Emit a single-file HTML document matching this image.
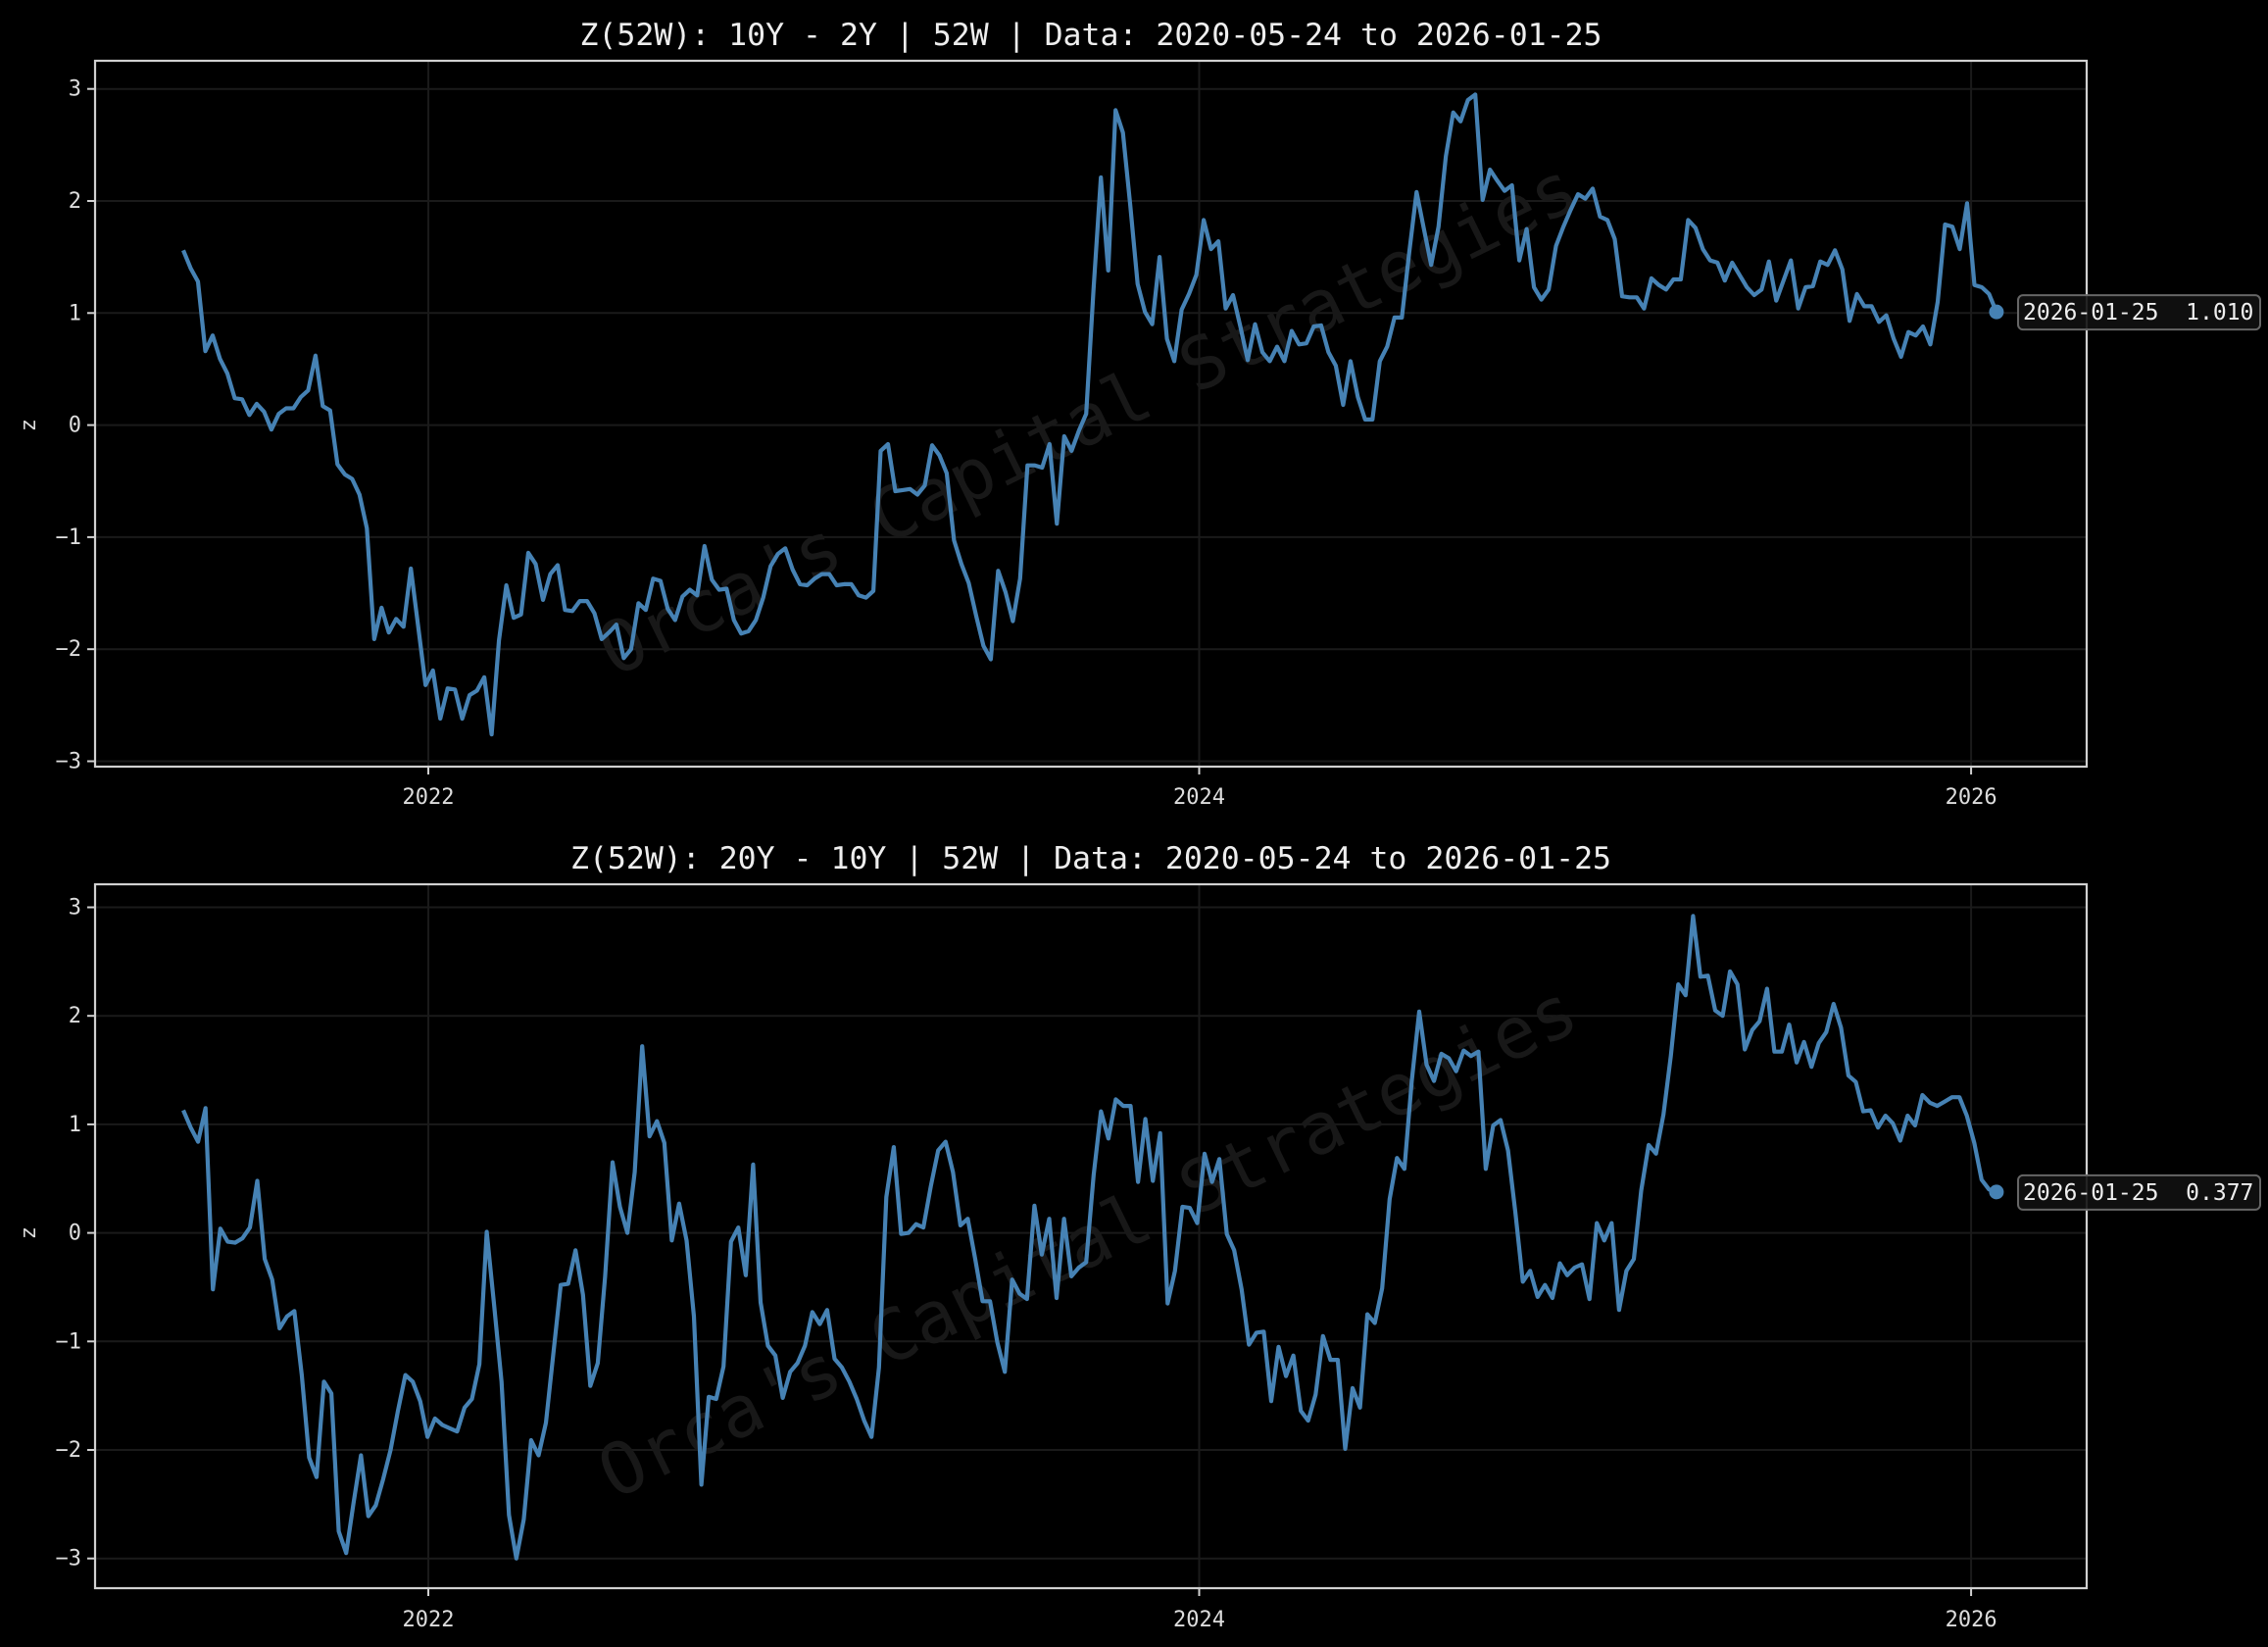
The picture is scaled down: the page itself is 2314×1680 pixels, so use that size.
<!DOCTYPE html>
<html><head><meta charset="utf-8">
<style>
html,body{margin:0;padding:0;background:#000;}
svg{display:block;}
text{font-family:"DejaVu Sans Mono","Liberation Mono",monospace;white-space:pre;}
</style></head>
<body>
<svg id="chart" width="2314" height="1680" viewBox="0 0 2314 1680" xmlns="http://www.w3.org/2000/svg">
<rect x="0" y="0" width="2314" height="1680" fill="#000"/>
</svg>
<script>
const startDate = "2021-05-14";
const endDate = "2026-01-25";
const xTickLabels = ["2022", "2024", "2026"];
const yTickLabels = ["3", "2", "1", "0", "\u22121", "\u22122", "\u22123"];
const yTickValues = [3, 2, 1, 0, -1, -2, -3];
const titles = ["Z(52W): 10Y - 2Y | 52W | Data: 2020-05-24 to 2026-01-25", "Z(52W): 20Y - 10Y | 52W | Data: 2020-05-24 to 2026-01-25"];
const lastValueLabels = ["1.010", "0.377"];
const series10y2y = [1.56,1.40,1.28,0.66,0.80,0.59,0.46,0.24,0.23,0.09,0.19,0.12,-0.04,0.10,0.15,0.15,0.25,0.31,0.62,0.17,0.13,-0.35,-0.44,-0.48,-0.62,-0.92,-1.91,-1.63,-1.85,-1.73,-1.80,-1.28,-1.80,-2.32,-2.19,-2.62,-2.35,-2.36,-2.62,-2.41,-2.37,-2.25,-2.76,-1.92,-1.43,-1.72,-1.69,-1.14,-1.24,-1.56,-1.33,-1.25,-1.65,-1.66,-1.57,-1.57,-1.68,-1.91,-1.85,-1.78,-2.08,-2.00,-1.59,-1.65,-1.37,-1.39,-1.64,-1.74,-1.53,-1.47,-1.52,-1.08,-1.38,-1.47,-1.46,-1.74,-1.86,-1.84,-1.74,-1.54,-1.26,-1.15,-1.10,-1.29,-1.42,-1.43,-1.37,-1.33,-1.33,-1.43,-1.42,-1.42,-1.52,-1.54,-1.48,-0.23,-0.17,-0.59,-0.58,-0.57,-0.62,-0.54,-0.18,-0.27,-0.43,-1.03,-1.24,-1.41,-1.70,-1.97,-2.09,-1.30,-1.49,-1.75,-1.37,-0.36,-0.36,-0.38,-0.17,-0.88,-0.10,-0.23,-0.05,0.10,1.21,2.21,1.38,2.81,2.61,1.96,1.26,1.01,0.90,1.50,0.77,0.57,1.03,1.17,1.34,1.83,1.57,1.64,1.04,1.16,0.88,0.58,0.90,0.65,0.57,0.70,0.57,0.84,0.72,0.73,0.88,0.89,0.65,0.53,0.18,0.57,0.25,0.05,0.05,0.57,0.70,0.96,0.96,1.54,2.08,1.75,1.43,1.77,2.40,2.79,2.71,2.90,2.95,2.01,2.28,2.18,2.09,2.14,1.47,1.75,1.23,1.12,1.21,1.60,1.77,1.92,2.06,2.02,2.11,1.86,1.83,1.66,1.15,1.14,1.14,1.04,1.31,1.25,1.21,1.30,1.30,1.83,1.76,1.57,1.47,1.45,1.29,1.45,1.34,1.23,1.16,1.21,1.46,1.11,1.29,1.47,1.04,1.23,1.24,1.46,1.43,1.56,1.39,0.93,1.17,1.06,1.06,0.92,0.98,0.77,0.61,0.83,0.80,0.88,0.72,1.10,1.79,1.77,1.57,1.98,1.25,1.23,1.17,1.01];
const series20y10y = [1.13,0.97,0.84,1.15,-0.52,0.04,-0.08,-0.09,-0.05,0.05,0.48,-0.24,-0.43,-0.88,-0.77,-0.72,-1.31,-2.07,-2.25,-1.37,-1.48,-2.75,-2.95,-2.49,-2.05,-2.61,-2.51,-2.27,-2.00,-1.64,-1.31,-1.37,-1.55,-1.88,-1.71,-1.77,-1.80,-1.83,-1.61,-1.53,-1.21,0.01,-0.67,-1.37,-2.60,-3.00,-2.64,-1.91,-2.05,-1.75,-1.11,-0.48,-0.47,-0.16,-0.57,-1.41,-1.20,-0.40,0.65,0.24,0.00,0.56,1.72,0.89,1.03,0.83,-0.07,0.27,-0.07,-0.77,-2.32,-1.51,-1.53,-1.23,-0.08,0.05,-0.39,0.63,-0.64,-1.04,-1.13,-1.52,-1.28,-1.20,-1.04,-0.73,-0.84,-0.71,-1.16,-1.24,-1.37,-1.53,-1.73,-1.88,-1.24,0.33,0.79,-0.01,0.00,0.08,0.05,0.43,0.76,0.84,0.56,0.07,0.13,-0.24,-0.63,-0.63,-1.01,-1.28,-0.43,-0.56,-0.61,0.25,-0.20,0.13,-0.60,0.13,-0.40,-0.32,-0.27,0.53,1.12,0.87,1.23,1.17,1.17,0.47,1.05,0.48,0.92,-0.65,-0.35,0.24,0.23,0.09,0.73,0.47,0.68,-0.01,-0.16,-0.52,-1.03,-0.92,-0.91,-1.55,-1.05,-1.32,-1.13,-1.64,-1.73,-1.49,-0.95,-1.17,-1.17,-1.99,-1.43,-1.61,-0.75,-0.83,-0.51,0.31,0.69,0.59,1.40,2.04,1.55,1.40,1.65,1.61,1.49,1.68,1.63,1.67,0.59,0.99,1.04,0.76,0.19,-0.45,-0.35,-0.59,-0.48,-0.60,-0.28,-0.39,-0.32,-0.29,-0.61,0.09,-0.07,0.09,-0.71,-0.35,-0.24,0.39,0.81,0.73,1.09,1.63,2.29,2.19,2.92,2.36,2.37,2.05,2.00,2.41,2.29,1.69,1.87,1.95,2.25,1.67,1.67,1.92,1.57,1.76,1.53,1.75,1.85,2.11,1.89,1.45,1.39,1.12,1.13,0.97,1.08,1.01,0.85,1.08,0.99,1.27,1.20,1.17,1.21,1.25,1.25,1.08,0.83,0.49,0.40,0.377];

const NS = "http://www.w3.org/2000/svg";
const svg = document.getElementById("chart");
function mk(tag, attrs, parent){
  const e = document.createElementNS(NS, tag);
  for (const k in attrs) e.setAttribute(k, attrs[k]);
  (parent||svg).appendChild(e);
  return e;
}
const DAY = 86400000;
const t2022 = Date.UTC(2022,0,1), t2024 = Date.UTC(2024,0,1);
const pxPerDay = (1223.5 - 437) / ((t2024 - t2022)/DAY);
function xScale(t){ return 437 + (t - t2022)/DAY * pxPerDay; }
const tickDates = xTickLabels.map(s => Date.UTC(+s,0,1));
const t0 = Date.parse(startDate+"T00:00:00Z"), t1 = Date.parse(endDate+"T00:00:00Z");

const panels = [
  {top:62, bottom:782, y3:90.7, unit:114.3, data:series10y2y, titleY:46, tickY:820, name:"10y-2y"},
  {top:902, bottom:1620, y3:925.5, unit:110.7, data:series20y10y, titleY:886, tickY:1659, name:"20y-10y"}
];
const L = 97, R = 2129;

panels.forEach((p, pi) => {
  const yScale = v => p.y3 + (3 - v) * p.unit;
  const g = mk("g", {});
  
  
  yTickValues.forEach((v,i) => {
    const gl = mk("line", {x1:L, x2:R, y1:yScale(v), y2:yScale(v), stroke:"#1a1a1a", "stroke-width":2}, g);
    
    
  });
  tickDates.forEach(t => {
    const gl = mk("line", {x1:xScale(t), x2:xScale(t), y1:p.top, y2:p.bottom, stroke:"#1a1a1a", "stroke-width":2}, g);
    
    
  });
  const cx = 1112, cy = (p.top + p.bottom)/2 + 10;
  const wm = mk("text", {x:cx, y:cy, fill:"#181818", "font-size":73, "text-anchor":"middle", "dominant-baseline":"middle", transform:"rotate(-26 "+cx+" "+cy+")"}, g);
  wm.textContent = "Orca's Capital Strategies";
  
  
  const n = p.data.length;
  const pts = p.data.map((v,i) => {
    const t = t0 + (t1 - t0) * i/(n-1);
    return xScale(t).toFixed(1)+","+yScale(v).toFixed(1);
  });
  const pl = mk("polyline", {points:pts.join(" "), fill:"none", stroke:"#4682b4", "stroke-width":4.2, "stroke-linejoin":"round"}, g);
  
  
  const lastV = p.data[n-1];
  const dot = mk("circle", {cx:xScale(t1), cy:yScale(lastV), r:7.5, fill:"#4682b4"}, g);
  
  
  const sp = mk("rect", {x:L, y:p.top, width:R-L, height:p.bottom-p.top, fill:"none", stroke:"#d0d0d0", "stroke-width":2.2}, g);
  
  
  yTickValues.forEach((v,i) => {
    const tk = mk("line", {x1:L-8, x2:L, y1:yScale(v), y2:yScale(v), stroke:"#d0d0d0", "stroke-width":2}, g);
    
    
    const tl = mk("text", {x:L-14, y:yScale(v)+7, fill:"#ddd", "font-size":22, "text-anchor":"end"}, g);
    tl.textContent = yTickLabels[i];
    
    
  });
  tickDates.forEach((t,i) => {
    const tk = mk("line", {x1:xScale(t), x2:xScale(t), y1:p.bottom, y2:p.bottom+8, stroke:"#d0d0d0", "stroke-width":2}, g);
    
    
    const tl = mk("text", {x:xScale(t), y:p.tickY, fill:"#ddd", "font-size":22, "text-anchor":"middle"}, g);
    tl.textContent = xTickLabels[i];
    
    
  });
  const yl = mk("text", {x:0, y:0, fill:"#ddd", "font-size":22, "text-anchor":"middle", transform:"translate(36 "+yScale(0)+") rotate(-90)"}, g);
  yl.textContent = "z";
  
  
  const ti = mk("text", {x:1113, y:p.titleY, fill:"#eee", "font-size":31.5, "text-anchor":"middle"}, g);
  ti.textContent = titles[pi];
  
  
  const ay = yScale(lastV);
  const box = mk("rect", {x:2059, y:ay-17, width:247, height:35, rx:5, fill:"#111", "fill-opacity":0.9, stroke:"#666", "stroke-width":2}, g);
  
  
  const at = mk("text", {x:2064, y:ay+8, fill:"#eee", "font-size":23, "xml:space":"preserve"}, g);
  at.textContent = endDate + "\u00a0\u00a0" + lastValueLabels[pi];
  
  
});
</script>
</body></html>
